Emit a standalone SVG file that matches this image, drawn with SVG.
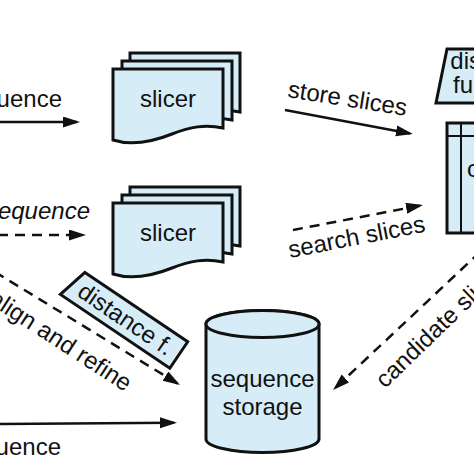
<svg xmlns="http://www.w3.org/2000/svg" width="474" height="474" viewBox="0 0 474 474">
<style>
.shape{fill:#d6edf8;stroke:#111;stroke-width:3;stroke-linejoin:miter}
.thin{fill:none;stroke:#111;stroke-width:2}
.lbl{font-family:"Liberation Sans",Arial,sans-serif;font-size:24px;fill:#111}
.it{font-style:italic}
.arr{fill:none;stroke:#111;stroke-width:2.5}
.dash{stroke-dasharray:10 7}
</style>
<defs>
<marker id="ah" markerUnits="userSpaceOnUse" markerWidth="18" markerHeight="12" refX="14" refY="5.5" orient="auto">
<path d="M0,0 L17,5.5 L0,11 Z" fill="#111"/>
</marker>
<path id="doc" d="M0,0 H110 V59 C92,55 77,58 59,65 C39,73 19,77 0,71 Z"/>
</defs>
<rect width="474" height="474" fill="#fff"/>

<g id="slicer1">
<use href="#doc" class="shape" transform="translate(130,53)"/>
<use href="#doc" class="shape" transform="translate(122,61)"/>
<use href="#doc" class="shape" transform="translate(113,69)"/>
<text class="lbl" x="168" y="107" text-anchor="middle">slicer</text>
</g>

<g id="slicer2">
<use href="#doc" class="shape" transform="translate(130,187)"/>
<use href="#doc" class="shape" transform="translate(122,195)"/>
<use href="#doc" class="shape" transform="translate(113,203)"/>
<text class="lbl" x="168" y="241" text-anchor="middle">slicer</text>
</g>

<g id="distfunc">
<polygon class="shape" points="447,49 490,49 490,103 436,103"/>
<text class="lbl" x="495" y="69" text-anchor="middle">distance</text>
<text class="lbl" x="495" y="93" text-anchor="middle">function</text>
</g>

<g id="index">
<rect class="shape" x="447" y="123" width="50" height="110"/>
<line class="thin" x1="447" y1="136" x2="490" y2="136"/>
<line class="thin" x1="461" y1="123" x2="461" y2="233"/>
<text class="lbl" x="467" y="177">cache</text>
</g>

<g id="distf" transform="translate(125.7,319.2) rotate(34)">
<polygon class="shape" points="-60,-16 64,-16 64,16 -68,16"/>
<text class="lbl" x="0" y="8" text-anchor="middle">distance f.</text>
</g>

<g id="storage">
<path class="shape" d="M206,324 V439 A56.5,13.5 0 0 0 319,439 V324 A56.5,13.5 0 0 0 206,324 Z"/>
<ellipse class="shape" cx="262.5" cy="324" rx="56.5" ry="13.5"/>
<text class="lbl" x="262.5" y="387" text-anchor="middle">sequence</text>
<text class="lbl" x="262.5" y="415" text-anchor="middle">storage</text>
</g>

<g id="connectors">
<line class="arr" x1="-2" y1="122" x2="77" y2="122" marker-end="url(#ah)"/>
<line class="arr" x1="-2" y1="424" x2="174" y2="422.7" marker-end="url(#ah)"/>
<line class="arr" x1="285" y1="110" x2="410" y2="133.4" marker-end="url(#ah)"/>
<line class="arr dash" x1="-2" y1="235" x2="83" y2="235" marker-end="url(#ah)"/>
<line class="arr dash" x1="293" y1="230" x2="420" y2="205.6" marker-end="url(#ah)"/>
<line class="arr dash" x1="480" y1="252" x2="335.2" y2="388" marker-end="url(#ah)"/>
<line class="arr dash" x1="-5" y1="272" x2="177.4" y2="383.4" marker-end="url(#ah)"/>
</g>

<g id="labels">
<text class="lbl" x="62" y="107" text-anchor="end">sequence</text>
<text class="lbl it" x="90" y="219" text-anchor="end">sequence</text>
<text class="lbl" x="61" y="455" text-anchor="end">sequence</text>
<text class="lbl" transform="translate(287,97) rotate(9)">store slices</text>
<text class="lbl" transform="translate(290,258) rotate(-11)">search slices</text>
<text class="lbl" transform="translate(385,389) rotate(-44)">candidate slices</text>
<text class="lbl" transform="translate(-12.6,302.6) rotate(33)">align and refine</text>
</g>
</svg>
